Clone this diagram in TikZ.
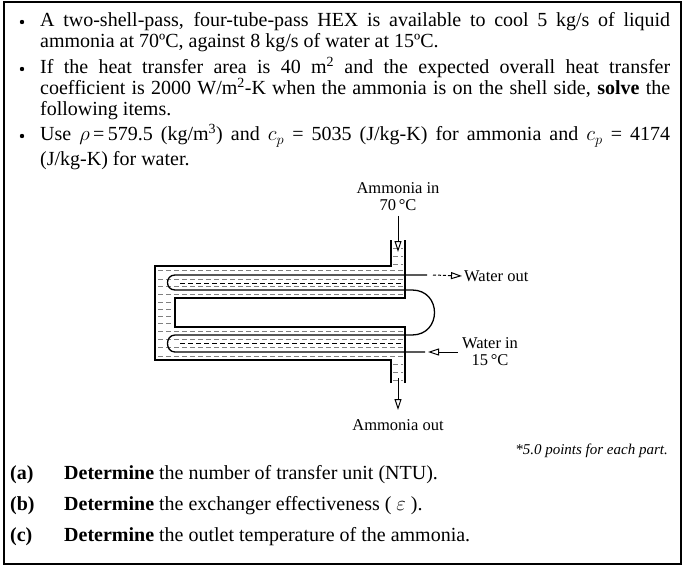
\documentclass[tikz,border=0pt]{standalone}
\usepackage{fontspec}
\setmainfont{Liberation Serif}
\usetikzlibrary{arrows.meta}
\begin{document}
\begin{tikzpicture}[x=1pt,y=-1pt,
  txt/.style={anchor=base west,inner sep=0pt,font=\fontsize{20}{23}\selectfont},
  lbl/.style={inner sep=0pt,font=\fontsize{16.5}{17}\selectfont,align=center},
  wall/.style={line width=1.3pt},
  hatch/.style={gray,dash pattern=on 5pt off 3pt,line width=0.5pt},
  flow/.style={line width=1pt,-{Triangle[open,length=11pt,width=7pt]}}]
\useasboundingbox (0,0) rectangle (687,569);
\draw[line width=1.6pt] (4,2) rectangle (681,564);
% bullets
\foreach \y in {27,74,141} \fill (22,\y-5) circle (2.2pt);
\node[txt] (l1) at (40,27) {\makebox[630pt][s]{A two-shell-pass, four-tube-pass HEX is available to cool 5 kg/s of liquid}};
\node[txt] (l2) at (40,48) {ammonia at 70ºC, against 8 kg/s of water at 15ºC.};
\node[txt] (l3) at (40,74) {\makebox[630pt][s]{If the heat transfer area is 40 m\textsuperscript{2} and the expected overall heat transfer}};
\node[txt] (l4) at (40,95) {\makebox[630pt][s]{coefficient is 2000 W/m\textsuperscript{2}-K when the ammonia is on the shell side, \textbf{solve} the}};
\node[txt] (l5) at (40,116) {following items.};
\node[txt] (l6) at (40,141) {\makebox[630pt][s]{Use $\rho$\,=\,579.5 (kg/m\textsuperscript{3}) and $c_p$ = 5035 (J/kg-K) for ammonia and $c_p$ = 4174}};
\node[txt] (l7) at (40,166) {(J/kg-K) for water.};
% shell
\draw[wall] (391,240) -- (391,266) -- (155,266) -- (155,360) -- (391,360) -- (391,383)
  (405,383) -- (405,327) -- (175,327) -- (175,298) -- (405,298) -- (405,240);
\foreach \y in {270,279,286,294} \draw[hatch] (158,\y) -- (403,\y);
\foreach \y in {331,339,347,356} \draw[hatch] (158,\y) -- (403,\y);
\foreach \y in {302,309,316,323} \draw[hatch] (158,\y) -- (173,\y);
\foreach \y in {248,256,264} \draw[hatch] (393,\y) -- (403,\y);
\foreach \y in {364,372,380} \draw[hatch] (393,\y) -- (403,\y);
% tubes
\draw[line width=1.3pt] (427,275) -- (175,275) .. controls (165,275) and (165,290) .. (175,290) -- (412,290)
  .. controls (442,290) and (442,335) .. (412,335) -- (175,335) .. controls (165,335) and (165,352) .. (175,352) -- (425,352);
\draw[hatch,black] (180,283) -- (402,283);
\draw[hatch,black] (180,343) -- (402,343);
% labels and arrows
\node[lbl] (ain) at (398,197) {Ammonia in\\70\,°C};
\coordinate (ainA) at (398,216);
\coordinate (ainB) at (398,252);
\draw[flow] (ainA) -- (ainB);
\coordinate (aoA) at (398,378);
\coordinate (aoB) at (398,410);
\draw[flow] (aoA) -- (aoB);
\node[lbl] (aout) at (398,425) {Ammonia out};
\node[lbl,anchor=west] (wout) at (464,276) {Water out};
\coordinate (woA) at (433,275);
\draw[flow,dash pattern=on 3pt off 2pt] (woA) -- ([xshift=-2pt]wout.west);
\node[lbl] (win) at (490,352) {Water in\\15\,°C};
\coordinate (wiB) at (428,352);
\draw[flow] ([xshift=-4pt]win.west) -- (wiB);
\node[lbl,anchor=east,font=\fontsize{15}{16}\selectfont\itshape] (pts) at (668,451) {*5.0 points for each part.};
% parts
\foreach \t/\y/\s in {a/479/{the number of transfer unit (NTU).},b/510/{the exchanger effectiveness ( $\varepsilon$ ).},c/541/{the outlet temperature of the ammonia.}}{
  \node[txt,font=\fontsize{20}{23}\selectfont\bfseries] (p\t) at (10,\y) {(\t)};
  \node[txt] (q\t) at (64,\y) {\textbf{Determine} \s};
}
\end{tikzpicture}
\end{document}
